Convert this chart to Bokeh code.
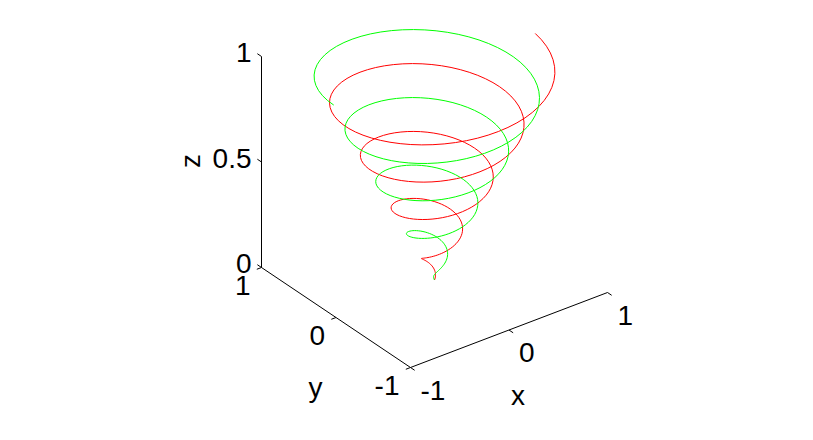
import numpy as np
from bokeh.plotting import figure
from bokeh.models import Range1d
from bokeh.embed import file_html
from bokeh.resources import INLINE
from bokeh.core.properties import value

# ---------------- data ----------------
helix_turns = 4            # turns of the conical helix over z in [0, 1]
helix_step = 0.1           # parameter step (radians)
red_phase = 0.0
green_phase = np.pi
x_ticks = [-1, 0, 1]
x_tick_labels = ["-1", "0", "1"]
y_ticks = [-1, 0, 1]
y_tick_labels = ["-1", "0", "1"]
z_ticks = [0, 0.5, 1]
z_tick_labels = ["0", "0.5", "1"]
x_lim = (-1, 1)
y_lim = (-1, 1)
z_lim = (0, 1)
x_name, y_name, z_name = "x", "y", "z"

# ---------------- projection (screen layout) ----------------
O = np.array([410.0, 367.0])     # screen position of (xmin, ymin, zmin)
EX = np.array([197.0, -75.0])    # screen vector for full x range
EY = np.array([-149.0, -100.0])  # screen vector for full y range
EZ = np.array([0.0, -211.0])     # screen vector for full z range


def proj(x, y, z):
    x = np.asarray(x, dtype=float)
    y = np.asarray(y, dtype=float)
    z = np.asarray(z, dtype=float)
    u = (x - x_lim[0]) / (x_lim[1] - x_lim[0])
    v = (y - y_lim[0]) / (y_lim[1] - y_lim[0])
    w = (z - z_lim[0]) / (z_lim[1] - z_lim[0])
    sx = O[0] + u * EX[0] + v * EY[0] + w * EZ[0]
    sy = O[1] + u * EX[1] + v * EY[1] + w * EZ[1]
    return sx, sy


def unit(vec):
    return vec / np.hypot(*vec)


W, H = 797, 424
p = figure(width=W, height=H, x_range=Range1d(0, W), y_range=Range1d(H, 0),
           toolbar_location=None, output_backend="svg", min_border=0,
           outline_line_color=None, background_fill_color="white",
           border_fill_color="white")
p.axis.visible = False
p.grid.visible = False

# ---------------- curves ----------------
t = np.arange(0, 2 * np.pi * helix_turns, helix_step)
tz = t / (2 * np.pi * helix_turns)
for phase, col in ((red_phase, "#ff0000"), (green_phase, "#00ff00")):
    hx = tz * np.cos(t + phase)
    hy = tz * np.sin(t + phase)
    sx, sy = proj(hx, hy, tz)
    p.line(sx, sy, line_color=col, line_width=1)

# ---------------- axes ----------------
axx, axy = proj([x_lim[0], x_lim[1]], [y_lim[0]] * 2, [z_lim[0]] * 2)
ayx, ayy = proj([x_lim[0]] * 2, [y_lim[1], y_lim[0]], [z_lim[0]] * 2)
azx, azy = proj([x_lim[0]] * 2, [y_lim[1]] * 2, [z_lim[0], z_lim[1]])
p.segment(x0=[axx[0], ayx[0], azx[0]], y0=[axy[0], ayy[0], azy[0]],
          x1=[axx[1], ayx[1], azx[1]], y1=[axy[1], ayy[1], azy[1]],
          line_color="black", line_width=1)

TL = 5.0
font = value("Liberation Sans")
fsize = value("28px")

# x ticks: point along -y
dx = -unit(EY) * TL
tx, ty = proj(x_ticks, [y_lim[0]] * 3, [z_lim[0]] * 3)
p.segment(x0=tx, y0=ty, x1=tx + dx[0], y1=ty + dx[1], line_color="black", line_width=1)
p.text(x=tx + 10, y=ty + 22.5, text=x_tick_labels, text_font=font, text_font_size=fsize,
       text_align="left", text_baseline="alphabetic", text_color="black")

# y ticks: point along -x
dy = -unit(EX) * TL
tx, ty = proj([x_lim[0]] * 3, y_ticks, [z_lim[0]] * 3)
p.segment(x0=tx, y0=ty, x1=tx + dy[0], y1=ty + dy[1], line_color="black", line_width=1)
p.text(x=tx - 11, y=ty + 18, text=y_tick_labels, text_font=font, text_font_size=fsize,
       text_align="right", text_baseline="alphabetic", text_color="black")

# z ticks: point along +y
dz = unit(EY) * TL
tx, ty = proj([x_lim[0]] * 3, [y_lim[1]] * 3, z_ticks)
p.segment(x0=tx, y0=ty, x1=tx + dz[0], y1=ty + dz[1], line_color="black", line_width=1)
p.text(x=tx - 10, y=ty - 4, text=z_tick_labels, text_font=font, text_font_size=fsize,
       text_align="right", text_baseline="alphabetic", text_color="black")

# axis names
xmx, xmy = proj([0], [y_lim[0]], [z_lim[0]])
ymx, ymy = proj([x_lim[0]], [0], [z_lim[0]])
zmx, zmy = proj([x_lim[0]], [y_lim[1]], [0.5])
p.text(x=xmx + 9, y=xmy + 65.5, text=[x_name], text_font=font, text_font_size=fsize,
       text_align="center", text_baseline="alphabetic", text_color="black")
p.text(x=ymx - 20.5, y=ymy + 70, text=[y_name], text_font=font, text_font_size=fsize,
       text_align="center", text_baseline="alphabetic", text_color="black")
p.text(x=zmx - 71, y=zmy - 1, text=[z_name], text_font=font, text_font_size=fsize,
       angle=np.pi / 2, text_align="center", text_baseline="alphabetic", text_color="black")

open("out.html", "w").write(file_html(p, INLINE))
